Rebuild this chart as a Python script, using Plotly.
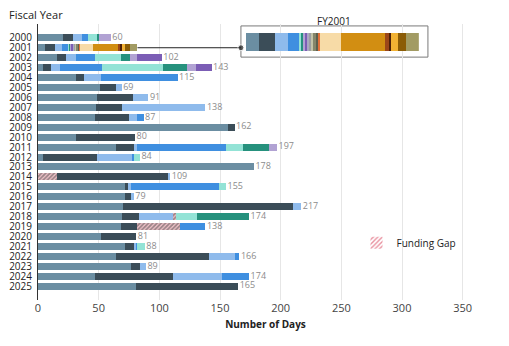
import plotly.graph_objects as go

# Fiscal years and the length (days) of each continuing resolution, in order
years = [str(y) for y in range(2000, 2026)]
cr_days = [
    [21, 8, 7, 5, 8, 1, 10],                                              # 2000
    [6, 8, 6, 5, 1, 1, 1, 1, 1, 1, 1, 1, 1, 1, 10, 21, 2, 1, 3, 4, 6],    # 2001
    [16, 7, 8, 16, 21, 8, 6, 20],                                         # 2002
    [4, 7, 7, 35, 50, 20, 7, 13],                                         # 2003
    [31, 7, 14, 63],                                                      # 2004
    [51, 13, 5],                                                          # 2005
    [49, 29, 13],                                                         # 2006
    [48, 21, 69],                                                         # 2007
    [47, 28, 7, 5],                                                       # 2008
    [157, 5],                                                             # 2009
    [31, 49],                                                             # 2010
    [64, 15, 3, 73, 14, 21, 7],                                           # 2011
    [4, 45, 29, 1, 5],                                                    # 2012
    [178],                                                                # 2013
    [16, 91, 2],                                                          # 2014
    [72, 2, 3, 72, 6],                                                    # 2015
    [72, 5, 2],                                                           # 2016
    [70, 140, 7],                                                         # 2017
    [69, 14, 28, 3, 17, 43],                                              # 2018
    [68, 14, 35, 21],                                                     # 2019
    [52, 29],                                                             # 2020
    [72, 7, 2, 1, 6],                                                     # 2021
    [64, 77, 21, 4],                                                      # 2022
    [77, 7, 5],                                                           # 2023
    [47, 64, 41, 22],                                                     # 2024
    [81, 84],                                                             # 2025
]
# (fiscal year, segment index) pairs that were lapses in appropriations
funding_gaps = [("2014", 0), ("2018", 3), ("2019", 2)]
zoom_year = "2001"
x_ticks = [0, 50, 100, 150, 200, 250, 300, 350]

palette = [
    "#6b8ea2", "#3b4d58", "#8fbbec", "#3f8fe0", "#93e3d6", "#26917d", "#b1a2d3",
    "#7b5db5", "#aaa6c4", "#9c9fa2", "#c2c3a8", "#84866b", "#5c604e", "#e2703a",
    "#f7dba7", "#d28e12", "#9c4719", "#4e2008", "#f2b233", "#8b5c06", "#a29b63",
]
GAP_BG = "#f3c4cb"
GAP_FG = "#d21f3c"
GAP_PATTERN = dict(shape="/", fgcolor=GAP_FG, fillmode="overlay", size=3, solidity=0.6)
FONT = "Open Sans"
X_MAX = 375

fig = go.Figure()

gap_set = set(funding_gaps)
n_seg = max(len(s) for s in cr_days)
for i in range(n_seg):
    xs, colors, shapes = [], [], []
    for yr, segs in zip(years, cr_days):
        xs.append(segs[i] if i < len(segs) else None)
        is_gap = (yr, i) in gap_set
        colors.append(GAP_BG if is_gap else palette[i])
        shapes.append("/" if is_gap else "")
    fig.add_trace(go.Bar(
        x=xs, y=years, orientation="h", showlegend=False,
        marker=dict(color=colors, line=dict(width=0),
                    pattern=dict(GAP_PATTERN, shape=shapes)),
        hoverinfo="skip",
    ))

# legend swatch for funding gaps
fig.add_trace(go.Bar(
    x=[None], y=[None], orientation="h", name="Funding Gap",
    marker=dict(color="#ffffff", line=dict(width=0),
                pattern=dict(GAP_PATTERN, size=4, solidity=0.45)),
))

totals = [sum(s) for s in cr_days]
lab_y = [y for y in years if y != zoom_year]
lab_x = [t for y, t in zip(years, totals) if y != zoom_year]
fig.add_trace(go.Scatter(
    x=lab_x, y=lab_y, mode="text", text=["\u2009" + str(t) for t in lab_x],
    textposition="middle right", textfont=dict(size=9, color="#8c8c8c", family=FONT),
    showlegend=False, cliponaxis=False, hoverinfo="skip",
))

# inset frame (paper coordinates) and the zoomed-in bar
frame_x0, frame_x1 = 0.446, 0.857
frame_y0, frame_y1 = 0.880, 0.993
zoom_idx = years.index(zoom_year)
zoom_segs = cr_days[zoom_idx]
zoom_total = totals[zoom_idx]
bases = [sum(zoom_segs[:k]) for k in range(len(zoom_segs))]
fig.add_trace(go.Bar(
    x=zoom_segs, base=bases, y=[zoom_year] * len(zoom_segs), orientation="h",
    width=1, marker=dict(color=palette[:len(zoom_segs)], line=dict(width=0)),
    xaxis="x2", yaxis="y2", showlegend=False, hoverinfo="skip",
))

# connector from the main bar to the inset
fig.add_trace(go.Scatter(
    x=[zoom_total, frame_x0 * X_MAX], y=[zoom_year, zoom_year], mode="lines+markers",
    line=dict(color="#222222", width=1), marker=dict(size=[0, 6], color="#222222"),
    showlegend=False, hoverinfo="skip", cliponaxis=False,
))

fig.update_layout(
    width=509, height=346,
    margin=dict(l=38, r=16, t=24, b=46),
    paper_bgcolor="white", plot_bgcolor="white",
    font=dict(family=FONT, color="#222222"),
    barmode="stack", bargap=0.3,
    xaxis=dict(range=[0, X_MAX], tickvals=x_ticks, showgrid=True, gridcolor="#e6e6e6",
               gridwidth=1, zeroline=False, ticks="", showline=False, automargin=False,
               tickfont=dict(size=11, color="#444444"),
               title=dict(text="<b>Number of Days</b>", font=dict(size=10, color="#222222"),
                          standoff=6)),
    yaxis=dict(type="category", categoryorder="array", categoryarray=years,
               tickmode="array", tickvals=years, ticktext=years,
               autorange="reversed", showgrid=False, zeroline=False, ticks="",
               showline=True, linecolor="#333333", linewidth=1,
               ticklabelstandoff=3, automargin=False,
               tickfont=dict(size=10, color="#222222")),
    xaxis2=dict(domain=[0.457, 0.837], range=[0, zoom_total], anchor="y2", visible=False),
    yaxis2=dict(domain=[0.902, 0.967], range=[-0.5, 0.5], type="category",
                anchor="x2", visible=False),
    legend=dict(x=0.70, y=0.207, xanchor="left", yanchor="middle",
                font=dict(size=10, color="#222222"), bgcolor="rgba(0,0,0,0)"),
    shapes=[dict(type="rect", xref="paper", yref="paper", x0=frame_x0, x1=frame_x1,
                 y0=frame_y0, y1=frame_y1, line=dict(color="#7a7a7a", width=1),
                 fillcolor="white", layer="between")],
    annotations=[
        dict(text="Fiscal Year", xref="paper", yref="paper", x=-0.068, y=1.036,
             xanchor="left", yanchor="middle", showarrow=False,
             font=dict(size=11, color="#222222")),
        dict(text="FY2001", xref="paper", yref="paper", x=(frame_x0 + frame_x1) / 2,
             y=1.011, xanchor="center", yanchor="middle", showarrow=False,
             font=dict(size=10, color="#222222")),
        dict(text=str(zoom_total), xref="x2", yref="y2", x=zoom_total, y=zoom_year,
             xanchor="left", xshift=9, showarrow=False,
             font=dict(size=9, color="#8c8c8c")),
    ],
)

fig.write_html("out.html")
